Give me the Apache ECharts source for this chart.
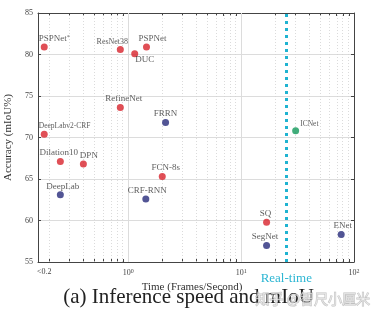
<!DOCTYPE html>
<html><head><meta charset="utf-8">
<script src="https://cdn.jsdelivr.net/npm/echarts@6/dist/echarts.min.js"></script>
<style>html,body{margin:0;padding:0;background:#fff}#c{width:377px;height:323px}</style>
</head><body><div id="c"></div>
<script>
const models = ['PSPNet*','ResNet38','DUC','PSPNet','RefineNet','FRRN','DeepLabv2-CRF','Dilation10','DPN','FCN-8s','DeepLab','CRF-RNN','SQ','SegNet','ENet','ICNet'];
const fps    = [0.18, 0.85, 1.14, 1.45, 0.85, 2.14, 0.18, 0.25, 0.40, 2.0, 0.25, 1.43, 16.8, 16.8, 77, 30.4];
const miou   = [80.9, 80.6, 80.1, 80.9, 73.6, 71.8, 70.4, 67.1, 66.8, 65.3, 63.1, 62.6, 59.8, 57.0, 58.3, 70.8];
const group  = ['r','r','r','r','r','b','r','r','r','r','b','b','r','b','b','g'];
const realTimeFps = 25;
const xTickValues = [0.18, 1, 10, 100];
const xTickLabels = ['<0.2', '10{s|0}', '10{s|1}', '10{s|2}'];

const colors = {r:'#d8232c', b:'#272a7a', g:'#12985a'};
const lg = v => Math.log10(v);
const xMin = -0.8, xMax = 2;
const minor = [];
for (let d = -1; d <= 1; d++) for (let k = 2; k <= 9; k++) {
  const v = lg(k * Math.pow(10, d));
  if (v > xMin && v < xMax) minor.push(v);
}
const major = [0, 1];

const labelCfg = {
  'PSPNet*': {align:'left', offset:[-5.5,0]},
  'ResNet38': {offset:[-8,0], fontSize:8},
  'PSPNet': {offset:[6,0]},
  'DUC': {position:'bottom', offset:[10,-2.5]},
  'RefineNet': {offset:[3.5,0]},
  'DeepLabv2-CRF': {align:'left', offset:[-5.5,0], fontSize:7.5},
  'Dilation10': {offset:[-1.5,0]},
  'DPN': {offset:[5.5,0]},
  'FCN-8s': {offset:[3.5,0]},
  'DeepLab': {offset:[2.5,0]},
  'CRF-RNN': {offset:[1.5,0]},
  'SQ': {offset:[-1,0]},
  'SegNet': {offset:[-1.5,0]},
  'ENet': {offset:[1.5,0]},
  'ICNet': {position:'right', distance:1, offset:[0,-6.5], fontSize:7.5},
};
const serif = 'Liberation Serif';
const data = models.map((m,i)=>({
  value:[lg(fps[i]), miou[i]], name:m,
  itemStyle:{color:colors[group[i]]},
  label:Object.assign({show:true, position:'top', distance:0.5,
    formatter: m==='PSPNet*' ? 'PSPNet{s|*}' : m,
    rich:{s:{fontSize:6, verticalAlign:'top', fontFamily:serif, color:'#333'}}}, labelCfg[m]||{})
}));

const chart = echarts.init(document.getElementById('c'));
const axisColor = '#444';
chart.setOption({
  animation:false,
  grid:{left:38, right:23, top:13, bottom:61, outerBoundsMode:'none', containLabel:false},
  xAxis:[{
    type:'value', min:xMin, max:xMax,
    name:'Time (Frames/Second)', nameLocation:'middle', nameGap:12,
    nameTextStyle:{fontFamily:serif, fontSize:11, color:'#333', padding:[0,8,0,0]},
    axisLine:{show:true, onZero:false, lineStyle:{color:axisColor, width:1}},
    axisTick:{show:true, inside:true, length:3, lineStyle:{color:axisColor}, customValues: minor.concat(major)},
    axisLabel:{fontFamily:serif, fontSize:8, color:'#444', margin:6,
      customValues: xTickValues.map(lg),
      formatter:(v)=>{ const i = xTickValues.map(lg).findIndex(t=>Math.abs(t-v)<1e-6); return i>=0?xTickLabels[i]:''; },
      rich:{s:{fontSize:6, verticalAlign:'top', fontFamily:serif, color:'#444', padding:[0,0,4,0]}}},
    splitLine:{show:false}
  },{
    type:'value', min:xMin, max:xMax, position:'top',
    axisLine:{show:true, onZero:false, lineStyle:{color:axisColor, width:1}},
    axisTick:{show:true, inside:true, length:3, lineStyle:{color:axisColor}, customValues: minor.concat(major)},
    axisLabel:{show:false}, splitLine:{show:false}
  }],
  yAxis:[{
    type:'value', min:55, max:85, interval:5, position:'left',
    name:'Accuracy (mIoU%)', nameLocation:'middle', nameGap:21,
    nameTextStyle:{fontFamily:serif, fontSize:11, color:'#333'},
    axisLine:{show:true, onZero:false, lineStyle:{color:axisColor}},
    axisTick:{show:true, inside:true, length:3, lineStyle:{color:axisColor}},
    axisLabel:{fontFamily:serif, fontSize:8, color:'#444', margin:5},
    splitLine:{show:true, lineStyle:{color:'#dcdcdc', width:1}}
  },{
    type:'value', min:55, max:85, interval:5, position:'right',
    axisLine:{show:true, onZero:false, lineStyle:{color:axisColor}},
    axisTick:{show:true, inside:true, length:3, lineStyle:{color:axisColor}},
    axisLabel:{show:false}, splitLine:{show:false}
  }],
  series:[{
    type:'scatter', symbolSize:7, data:data, z:5,
    label:{fontFamily:serif, fontSize:9, color:'#333'},
    markLine:{
      silent:true, symbol:'none', animation:false,
      label:{show:false},
      data: minor.map(v=>({xAxis:v, lineStyle:{color:'#d2d2d2', type:[1,2], width:0.8}}))
        .concat(major.map(v=>({xAxis:v, lineStyle:{color:'#dcdcdc', type:'solid', width:1}})))
        .concat([{xAxis:lg(realTimeFps), lineStyle:{color:'#1fb3d1', type:[3,4], width:3},
          label:{show:true, position:'start', distance:10, formatter:'Real-time',
            fontFamily:serif, fontSize:13, color:'#2cb6d3'}}])
    }
  }],
  graphic:[
    {type:'text', left:'center', top:287, style:{text:'(a) Inference speed and mIoU', font:'21px "Liberation Serif"', fill:'#222'}},
    {type:'text', left:255, top:291, z:10, style:{text:'知乎 @智尺小厘米', font:'14px "Noto Sans CJK SC"', fill:'rgba(255,255,255,0.55)', stroke:'rgba(150,150,150,0.6)', lineWidth:1}}
  ]
});
</script></body></html>
